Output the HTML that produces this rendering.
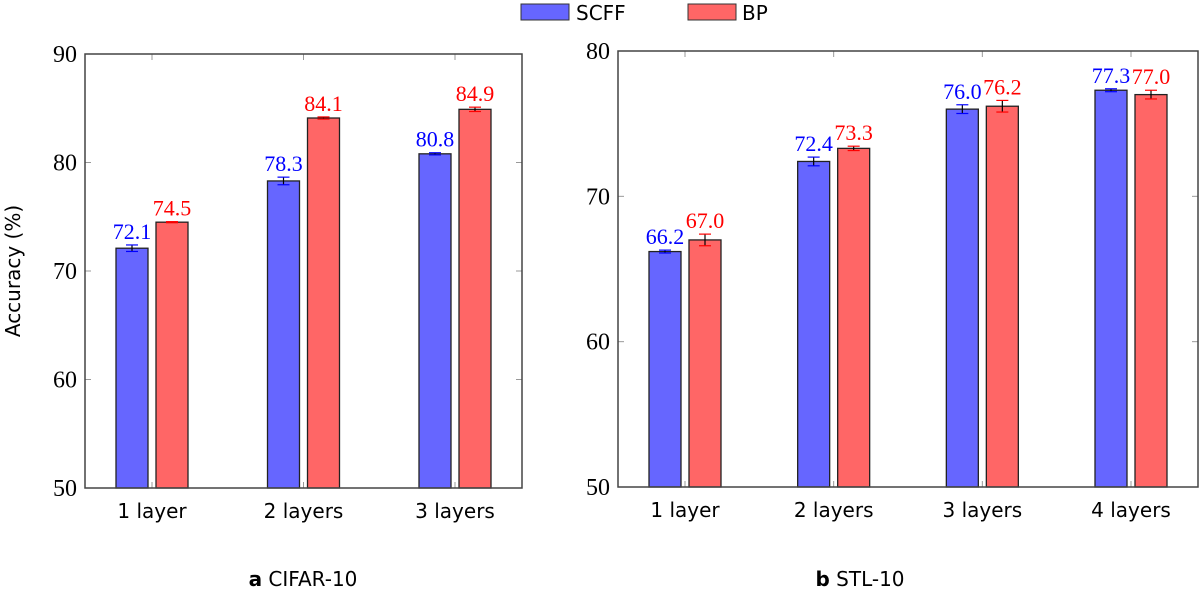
<!DOCTYPE html>
<html><head><meta charset="utf-8"><style>
body{margin:0;background:#fff;width:1200px;height:590px;overflow:hidden}
svg{display:block}
.tk{font-family:"Liberation Serif","DejaVu Serif",serif;font-size:24px}
.lab{font-family:"DejaVu Sans","Liberation Sans",sans-serif;font-size:20px}
.val{font-family:"Liberation Serif","DejaVu Serif",serif;font-size:22px}
</style></head><body>
<svg id="chart" width="1200" height="590" xmlns="http://www.w3.org/2000/svg">
<g>
<rect x="521" y="4" width="48" height="16" fill="#6666ff" stroke="#333" stroke-width="1"/>
<text x="576" y="20" class="lab" font-size="21">SCFF</text>
<rect x="688" y="4" width="48" height="16" fill="#ff6666" stroke="#333" stroke-width="1"/>
<text x="742" y="20" class="lab" font-size="21">BP</text>
</g>
<text transform="translate(20,271) rotate(-90)" text-anchor="middle" class="lab">Accuracy (%)</text>
<text x="303" y="586" text-anchor="middle" class="lab" font-size="21"><tspan font-weight="bold">a</tspan> CIFAR-10</text>
<text x="860" y="586" text-anchor="middle" class="lab" font-size="21"><tspan font-weight="bold">b</tspan> STL-10</text>
</svg>
<script>
const cifarCats=["1 layer","2 layers","3 layers"];
const cifarScff=[72.1,78.3,80.8];
const cifarBp=[74.5,84.1,84.9];
const cifarScffErr=[0.3,0.35,0.1];
const cifarBpErr=[0.05,0.1,0.2];
const cifarTicks=[50,60,70,80,90];
const stlCats=["1 layer","2 layers","3 layers","4 layers"];
const stlScff=[66.2,72.4,76.0,77.3];
const stlBp=[67.0,73.3,76.2,77.0];
const stlScffErr=[0.1,0.3,0.3,0.1];
const stlBpErr=[0.4,0.15,0.4,0.3];
const stlTicks=[50,60,70,80];
const NS="http://www.w3.org/2000/svg";
const svg=document.getElementById('chart');
function mk(t,a,p){const e=document.createElementNS(NS,t);for(const k in a)e.setAttribute(k,a[k]);(p||svg).appendChild(e);return e;}
function panel(cfg){
 const g=mk('g',{});
 
 
 const y=v=>cfg.y1-(v-cfg.ymin)/(cfg.ymax-cfg.ymin)*(cfg.y1-cfg.y0);
 const n=cfg.cats.length, pad=67, step=(cfg.x1-cfg.x0-2*pad)/(n-1);
 const cx=i=>cfg.x0+pad+step*i;
 cfg.ticks.forEach(t=>{
  const yy=y(t);
  if(t!==cfg.ymin&&t!==cfg.ymax){
   mk('line',{x1:cfg.x0,x2:cfg.x0+6,y1:yy,y2:yy,stroke:'#999','stroke-width':1},g);
   mk('line',{x1:cfg.x1-6,x2:cfg.x1,y1:yy,y2:yy,stroke:'#999','stroke-width':1},g);
  }
  const tx=mk('text',{x:cfg.x0-8,y:yy+8,'text-anchor':'end',class:'tk'},g);
  tx.textContent=t;
  
  
 });
 const series=[[cfg.a,cfg.ae,'#6666ff','#0000ff',-20,'scff'],[cfg.b,cfg.be,'#ff6666','#ff0000',20,'bp']];
 cfg.cats.forEach((c,i)=>{
  mk('line',{x1:cx(i),x2:cx(i),y1:cfg.y0,y2:cfg.y0+6,stroke:'#999'},g);
  mk('line',{x1:cx(i),x2:cx(i),y1:cfg.y1-6,y2:cfg.y1,stroke:'#999'},g);
  const tl=mk('text',{x:cx(i),y:cfg.y1+30,'text-anchor':'middle',class:'lab'},g);
  tl.textContent=c;
  
  
  series.forEach(s=>{
   const v=s[0][i],e=s[1][i],bx=cx(i)+s[4]-16;
   const r=mk('rect',{x:bx,y:y(v),width:32,height:cfg.y1-y(v),fill:s[2],stroke:'#222','stroke-width':1.3},g);
   
   
   const m=bx+16;
   mk('line',{x1:m,x2:m,y1:y(v+e),y2:y(v-e),stroke:'#000','stroke-width':1.2},g);
   mk('line',{x1:m-6,x2:m+6,y1:y(v+e),y2:y(v+e),stroke:s[3],'stroke-width':1.2},g);
   mk('line',{x1:m-6,x2:m+6,y1:y(v-e),y2:y(v-e),stroke:s[3],'stroke-width':1.2},g);
   const vl=mk('text',{x:m,y:y(v+e)-6,'text-anchor':'middle',class:'val',fill:s[3]},g);
   vl.textContent=v.toFixed(1);
   
   
  });
 });
 mk('rect',{x:cfg.x0,y:cfg.y0,width:cfg.x1-cfg.x0,height:cfg.y1-cfg.y0,fill:'none',stroke:'#444','stroke-width':1.5},g);
}
panel({name:'cifar-panel',x0:85,x1:522,y0:54,y1:488,ymin:50,ymax:90,cats:cifarCats,a:cifarScff,b:cifarBp,ae:cifarScffErr,be:cifarBpErr,ticks:cifarTicks});
panel({name:'stl-panel',x0:618,x1:1198,y0:51,y1:487,ymin:50,ymax:80,cats:stlCats,a:stlScff,b:stlBp,ae:stlScffErr,be:stlBpErr,ticks:stlTicks});
</script>
</body></html>
